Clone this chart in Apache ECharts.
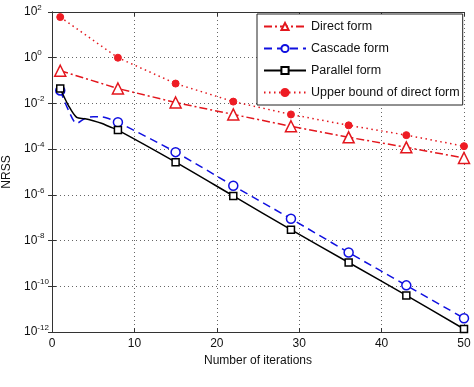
<!DOCTYPE html>
<html>
<head>
<meta charset="utf-8">
<script src="https://cdn.jsdelivr.net/npm/echarts@6/dist/echarts.min.js"></script>
<style>html,body{margin:0;padding:0;background:#fff;}#c{width:474px;height:387px;}</style>
</head>
<body>
<div id="c"></div>
<script>
// Iterations where markers are drawn
const markerIters = [1, 8, 15, 22, 29, 36, 43, 50];
// Direct form NRSS (at marker iterations)
const directForm = [0.27, 0.045, 0.011, 0.0033, 1.0e-3, 3.3e-4, 1.2e-4, 4.1e-5];
// Upper bound of direct form (at marker iterations)
const upperBound = [60, 1.0, 0.074, 0.012, 0.0033, 0.0011, 4.1e-4, 1.35e-4];
// Cascade form (read at these iterations)
const cascadeIters = [1, 2, 3, 4, 5, 6, 7, 8, 15, 22, 29, 36, 43, 50];
const cascadeForm = [0.037, 5.0e-3, 1.35e-3, 2.2e-3, 2.6e-3, 2.6e-3, 2.1e-3, 1.5e-3, 7.4e-5, 2.5e-6, 9e-8, 3e-9, 1.1e-10, 4e-12];
// Parallel form (read at these iterations)
const parallelIters = [1, 2, 3, 4, 5, 6, 7, 8, 15, 22, 29, 36, 43, 50];
const parallelForm = [0.045, 8.1e-3, 2.45e-3, 2.15e-3, 1.75e-3, 1.35e-3, 9.5e-4, 6.8e-4, 2.7e-5, 9e-7, 3e-8, 1.1e-9, 4e-11, 1.35e-12];
// Axis ticks
const xTicks = [0, 10, 20, 30, 40, 50];
const yExponents = [2, 0, -2, -4, -6, -8, -10, -12];

const seriesNames = ['Direct form', 'Cascade form', 'Parallel form', 'Upper bound of direct form'];

function pairs(xs, ys, withMarkers) {
  return xs.map((x, i) => {
    const item = { value: [x, ys[i]] };
    if (withMarkers && markerIters.indexOf(x) < 0) item.symbol = 'none';
    return item;
  });
}

const chart = echarts.init(document.getElementById('c'), null, { renderer: 'canvas' });
const axisColor = '#333';
const gridLine = { show: true, lineStyle: { color: '#666', type: [1, 3], width: 1 } };
const labelFont = { fontFamily: 'Liberation Sans, Arial, sans-serif', fontSize: 12, color: '#111' };

chart.setOption({
  animation: false,
  backgroundColor: '#fff',
  grid: { left: 52, right: 10, top: 12, bottom: 55, containLabel: false, outerBoundsMode: 'none' },
  legend: {
    orient: 'vertical',
    left: 257, top: 14,
    backgroundColor: '#fff',
    borderColor: '#222', borderWidth: 1, borderRadius: 0,
    padding: [6, 3, 6, 6],
    itemGap: 9, itemWidth: 42, itemHeight: 9,
    textStyle: { fontFamily: 'Liberation Sans, Arial, sans-serif', fontSize: 12.5, color: '#111' },
    data: seriesNames
  },
  xAxis: [{
    type: 'value', min: 0, max: 50, interval: 10,
    name: 'Number of iterations', nameLocation: 'middle', nameGap: 20,
    nameTextStyle: labelFont,
    axisLine: { show: true, lineStyle: { color: axisColor } },
    axisTick: { show: true, inside: true, length: 4, lineStyle: { color: axisColor } },
    axisLabel: Object.assign({ margin: 6, formatter: v => xTicks.indexOf(v) >= 0 ? String(v) : '' }, labelFont),
    splitLine: gridLine
  }, {
    type: 'value', min: 0, max: 50, interval: 10, position: 'top',
    axisLine: { show: true, lineStyle: { color: axisColor } },
    axisTick: { show: true, inside: true, length: 4, lineStyle: { color: axisColor } },
    axisLabel: { show: false }, splitLine: { show: false }
  }],
  yAxis: [{
    type: 'log', logBase: 10, min: 1e-12, max: 1e2, interval: 2,
    name: 'NRSS', nameLocation: 'middle', nameGap: 34, nameRotate: 90,
    nameTextStyle: labelFont,
    axisLine: { show: true, lineStyle: { color: axisColor } },
    axisTick: { show: true, inside: true, length: 4, lineStyle: { color: axisColor } },
    axisLabel: {
      margin: 28, align: 'left',
      formatter: v => {
        const e = Math.round(Math.log10(v));
        return '{b|10}{s|' + e + '}';
      },
      rich: {
        b: { fontFamily: 'Liberation Sans, Arial, sans-serif', fontSize: 12, color: '#111' },
        s: { fontFamily: 'Liberation Sans, Arial, sans-serif', fontSize: 8, color: '#111', padding: [0, 0, 9, 0] }
      }
    },
    splitLine: gridLine
  }, {
    type: 'log', logBase: 10, min: 1e-12, max: 1e2, interval: 2, position: 'right',
    axisLine: { show: true, lineStyle: { color: axisColor } },
    axisTick: { show: true, inside: true, length: 4, lineStyle: { color: axisColor } },
    axisLabel: { show: false }, splitLine: { show: false }
  }],
  series: [{
    name: seriesNames[0], type: 'line',
    data: pairs(markerIters, directForm, false),
    symbol: 'triangle', symbolSize: 11, showAllSymbol: true,
    itemStyle: { color: '#fff', borderColor: '#e3161d', borderWidth: 1.5 },
    lineStyle: { color: '#e3161d', width: 1.5, type: [8, 3, 2, 3] },
    z: 3
  }, {
    name: seriesNames[1], type: 'line',
    data: pairs(cascadeIters, cascadeForm, true),
    smooth: 0.3,
    symbol: 'circle', symbolSize: 9, showAllSymbol: true,
    itemStyle: { color: '#fff', borderColor: '#1010e0', borderWidth: 1.5 },
    lineStyle: { color: '#1010e0', width: 1.5, type: [8, 5] },
    z: 3
  }, {
    name: seriesNames[2], type: 'line',
    data: pairs(parallelIters, parallelForm, true),
    smooth: 0.3,
    symbol: 'rect', symbolSize: 7, showAllSymbol: true,
    itemStyle: { color: '#fff', borderColor: '#000', borderWidth: 1.5 },
    lineStyle: { color: '#000', width: 1.5, type: 'solid' },
    z: 4
  }, {
    name: seriesNames[3], type: 'line',
    data: pairs(markerIters, upperBound, false),
    symbol: 'circle', symbolSize: 7, showAllSymbol: true,
    itemStyle: { color: '#ee1c24', borderColor: '#ee1c24', borderWidth: 1 },
    lineStyle: { color: '#e3161d', width: 1.5, type: [1.5, 3.5] },
    z: 3
  }]
});
</script>
</body>
</html>
